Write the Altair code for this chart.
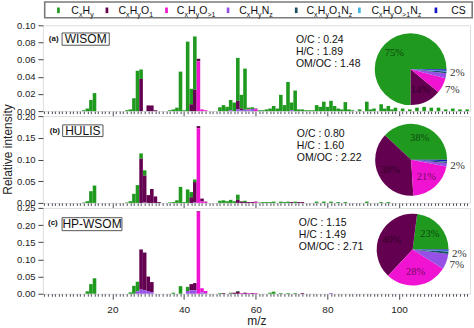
import math
import pandas as pd
import altair as alt

FONT = "Liberation Sans"
SERIF = "Liberation Serif"

categories = ["CxHy", "CxHyO1", "CxHyO>1", "CxHyNz", "CxHyO1Nz", "CxHyO>1Nz", "CS"]
palette = ["#1f9a1f", "#640050", "#f014d2", "#9650e6", "#1e5064", "#3cb4e6", "#1414c8"]

# ---------------- panel (a) WISOM : m/z -> relative intensity
a_CxHy = {12: .001, 13: .003, 14: .013, 15: .021, 24: .001, 25: .002, 26: .015, 27: .047, 28: .011,
          36: .001, 37: .002, 38: .004, 39: .046, 40: .001, 41: .081, 42: .018, 43: .062,
          50: .0045, 51: .007, 52: .005, 53: .012, 54: .010, 55: .050, 56: .016, 57: .048, 58: .002,
          59: .002, 61: .001, 62: .001, 63: .002, 64: .003, 65: .006, 66: .003, 67: .019, 68: .007,
          69: .034, 70: .009, 71: .024, 72: .002, 73: .002, 74: .001, 75: .001, 76: .001, 77: .007,
          78: .005, 79: .011, 80: .005, 81: .012, 82: .006, 83: .003, 84: .002, 85: .0105, 86: .002,
          87: .001, 89: .002, 91: .011, 92: .002, 93: .003, 95: .008, 96: .003, 97: .006, 98: .002,
          99: .004, 101: .003, 103: .002, 105: .004, 107: .005, 109: .004, 111: .004, 113: .002,
          115: .003, 117: .002, 119: .002}
a_CxHyO1 = {28: .0375, 30: .0066, 31: .0066, 32: .001, 42: .008, 43: .025, 44: .003, 55: .010, 56: .002, 60: .001}
a_CxHyO2 = {44: .058, 45: .002, 46: .001, 58: .001, 60: .002}
a_CxHyNz = {53: .001, 55: .002, 56: .001, 57: .001, 58: .001, 59: .002, 70: .001}
a_CxHyO1Nz = {}
a_CxHyO2Nz = {}
a_CS = {57: .0005, 59: .0005}
a_pie = [75, 14, 7, 2.2, 0.8, 0.3, 0.7]
a_pie_in = ["75%", "14%", "", "", "", "", ""]
a_pie_out = ["", "", "7%", "", "2%", "", ""]
a_ratios = ["0.24", "1.89", "1.48"]

# ---------------- panel (b) HULIS
b_CxHy = {12: .001, 13: .004, 14: .027, 15: .040, 24: .001, 25: .004, 26: .021, 27: .041, 28: .012,
          29: .012, 36: .001, 37: .002, 38: .006, 39: .037, 40: .002, 41: .031, 42: .012, 43: .006,
          50: .005, 51: .006, 52: .004, 53: .007, 54: .004, 55: .012, 56: .001, 57: .003, 61: .001,
          62: .002, 63: .002, 64: .002, 65: .003, 67: .003, 68: .002, 69: .003, 71: .003, 77: .003,
          79: .003, 81: .003, 83: .002, 85: .002, 91: .003, 95: .002, 97: .002}
b_CxHyO1 = {28: .102, 29: .062, 30: .018, 31: .032, 32: .015, 33: .002, 42: .013, 43: .047, 44: .005,
            45: .006, 46: .001, 55: .007, 56: .003, 57: .002, 58: .002, 59: .002, 60: .001, 70: .002,
            72: .002, 73: .002}
b_CxHyO2 = {44: .172, 45: .004, 46: .002, 60: .002}
b_CxHyNz = {29: .001, 43: .001}
b_CxHyO1Nz = {}
b_CxHyO2Nz = {}
b_CS = {}
b_pie = [38, 38, 21, 1.6, 0.6, 0.2, 0.6]
b_pie_in = ["38%", "38%", "21%", "", "", "", ""]
b_pie_out = ["", "", "", "2%", "", "", ""]
b_ratios = ["0.80", "1.60", "2.22"]

# ---------------- panel (c) HP-WSOM
c_CxHy = {13: .007, 14: .028, 15: .045, 25: .004, 26: .023, 27: .028, 37: .003, 39: .022, 41: .012,
          50: .002, 53: .002, 55: .002, 64: .003, 65: .006, 67: .002, 69: .002, 71: .002}
c_CxHyO1 = {28: .117, 29: .110, 30: .042, 31: .030, 42: .018, 43: .021, 44: .002, 51: .002, 53: .001,
            54: .003, 55: .006, 57: .003, 59: .002, 73: .002}
c_CxHyO2 = {44: .239, 45: .012, 46: .006, 56: .002, 58: .002, 60: .002}
c_CxHyNz = {27: .007, 28: .012, 29: .010, 30: .008, 31: .004, 41: .008, 42: .010, 43: .010, 45: .004,
            46: .002, 81: .002}
c_CxHyO1Nz = {}
c_CxHyO2Nz = {}
c_CS = {}
c_pie = [23, 40, 28, 7, 1.2, 0.3, 0.5]
c_pie_in = ["23%", "40%", "28%", "", "", "", ""]
c_pie_out = ["", "", "", "7%", "2%", "", ""]
c_ratios = ["1.15", "1.49", "2.71"]

names = ["WISOM", "HULIS", "HP-WSOM"]
tags = ["(a)", "(b)", "(c)"]

# ---------------- layout (pixels, relative to each plot area)
W, H = 428, [86, 87, 86]
layout = [
    dict(pie=(368.5, 44), txt=(253.5, [15, 27, 38.5]), tag=(10.8, 13.3), box=(19.2, 66.5, 7.7, 20)),
    dict(pie=(369, 43.8), txt=(254.5, [18, 29.8, 41.5]), tag=(12.0, 14.6), box=(19.8, 60.2, 8.8, 20.5)),
    dict(pie=(370.5, 41.8), txt=(256.5, [15.4, 26.8, 39.4]), tag=(10.0, 15.4), box=(19.2, 79.2, 9.8, 22.8)),
]
y_domains = [0.10, 0.20, 0.25]
y_values = [[0, .02, .04, .06, .08, .10], [0, .05, .10, .15, .20], [0, .05, .10, .15, .20, .25]]

cscale = alt.Scale(domain=categories, range=palette)
theta_scale = alt.Scale(range=[math.pi / 2, math.pi / 2 + 2 * math.pi])

# legend: label pieces (text, is_subscript)
legend_parts = [
    [("C", 0), ("x", 1), ("H", 0), ("y", 1)],
    [("C", 0), ("x", 1), ("H", 0), ("y", 1), ("O", 0), ("1", 1)],
    [("C", 0), ("x", 1), ("H", 0), ("y", 1), ("O", 0), (">1", 1)],
    [("C", 0), ("x", 1), ("H", 0), ("y", 1), ("N", 0), ("z", 1)],
    [("C", 0), ("x", 1), ("H", 0), ("y", 1), ("O", 0), ("1", 1), ("N", 0), ("z", 1)],
    [("C", 0), ("x", 1), ("H", 0), ("y", 1), ("O", 0), (">1", 1), ("N", 0), ("z", 1)],
    [("CS", 0)],
]
leg_sym_x = [14.2, 62.8, 122.5, 184.2, 252.5, 315.8, 392.5]
leg_txt_x = [28.5, 75.8, 134.2, 196.8, 264.2, 329.2, 409.2]
ADV = {"C": 722, "H": 722, "O": 778, "N": 722, "S": 667, "x": 500, "y": 500, "z": 500, "1": 556, ">": 584}
MAIN_FS, SUB_FS = 10.5, 7


def bars_df(dicts):
    rows = []
    for i, (cat, d) in enumerate(zip(categories, dicts)):
        for mz, v in d.items():
            rows.append({"cat": cat, "mz": mz, "val": v, "srank": 6 - i})
    return pd.DataFrame(rows)


def pie_df(vals, lin, lout):
    return pd.DataFrame({"cat": categories, "pct": vals, "srank": [6 - i for i in range(7)],
                         "lin": lin, "lout": lout})


def legend_layers():
    mains, subs = [], []
    base = -11.0
    for parts, x0 in zip(legend_parts, leg_txt_x):
        x = x0
        for t, sub in parts:
            fs = SUB_FS if sub else MAIN_FS
            (subs if sub else mains).append({"t": t, "tx": x, "ty": base + (2.4 if sub else 0)})
            x += sum(ADV[ch] for ch in t) * fs / 1000 + (0.2 if sub else 0)
    frame = alt.Chart(pd.DataFrame({"k": [0]})).mark_rect(
        fill="white", stroke="#7a7a7a", strokeWidth=1.6
    ).encode(x=alt.value(1.8), x2=alt.value(430.2), y=alt.value(-23.3), y2=alt.value(-7.5))
    sym = pd.DataFrame({"cat": categories, "sx": leg_sym_x, "sx2": [v + 2.7 for v in leg_sym_x]})
    syms = alt.Chart(sym).mark_rect().encode(
        x=alt.X("sx:Q", scale=None), x2="sx2:Q", y=alt.value(-17.8), y2=alt.value(-12.2),
        color=alt.Color("cat:N", scale=cscale, legend=None))
    tmain = alt.Chart(pd.DataFrame(mains)).mark_text(
        align="left", baseline="alphabetic", font=FONT, fontSize=MAIN_FS, color="#111"
    ).encode(x=alt.X("tx:Q", scale=None), y=alt.Y("ty:Q", scale=None), text="t:N")
    tsub = alt.Chart(pd.DataFrame(subs)).mark_text(
        align="left", baseline="alphabetic", font=FONT, fontSize=SUB_FS, color="#111"
    ).encode(x=alt.X("tx:Q", scale=None), y=alt.Y("ty:Q", scale=None), text="t:N")
    return [frame, syms, tmain, tsub]


def panel(k, dicts, pie_vals, pie_in, pie_out, ratios):
    L = layout[k]
    last = k == 2
    df = bars_df(dicts)
    xaxis = alt.Axis(
        values=list(range(1, 120)),
        tickSize={"condition": {"test": "datum.value % 20 === 0", "value": 5.5}, "value": 2.5},
        tickColor="#4a4a5a", tickWidth=1, grid=False, domain=False,
        labels=last, labelExpr="datum.value % 20 === 0 ? datum.label : ''",
        labelOverlap=False, labelFlush=False, labelFont=FONT, labelFontSize=10, labelColor="#222",
        labelPadding=5, title=("m/z" if last else None), titleFont=FONT, titleFontSize=12,
        titleFontWeight="normal", titleColor="#222", titlePadding=1)
    ykw = dict(title=None)
    if k == 1:
        ykw = dict(title="Relative intensity", titleY=33)
    yaxis = alt.Axis(
        values=y_values[k], format=".2f", grid=False, domain=False, tickSize=5, tickColor="#444",
        labelFont=FONT, labelFontSize=9.5, labelColor="#222", labelPadding=3,
        titleFont=FONT, titleFontSize=12, titleFontWeight="normal", titleColor="#222", titlePadding=2,
        **ykw)
    bars = alt.Chart(df).transform_calculate(
        lo="datum.mz - 0.5", hi="datum.mz + 0.5"
    ).transform_stack(
        stack="val", groupby=["mz"], as_=["y0", "y1"], sort=[alt.SortField("srank", order="ascending")]
    ).mark_rect().encode(
        x=alt.X("lo:Q", scale=alt.Scale(domain=[0.6, 119.8], nice=False, zero=False), axis=xaxis),
        x2="hi:Q",
        y=alt.Y("y0:Q", scale=alt.Scale(domain=[0, y_domains[k]], nice=False), axis=yaxis),
        y2="y1:Q",
        color=alt.Color("cat:N", scale=cscale, legend=None))

    pdf = pie_df(pie_vals, pie_in, pie_out)
    cx, cy = L["pie"]
    theta = alt.Theta("pct:Q", stack=True, scale=theta_scale)
    order = alt.Order("srank:Q", sort="ascending")
    pie = alt.Chart(pdf).mark_arc(radius=36).encode(
        theta=theta, order=order, color=alt.Color("cat:N", scale=cscale, legend=None),
        x=alt.value(cx), y=alt.value(cy))
    lab_in = alt.Chart(pdf).mark_text(radius=23, font=SERIF, fontSize=10.5, color="black", opacity=0.55).encode(
        theta=theta, order=order, text="lin:N", x=alt.value(cx), y=alt.value(cy))
    lab_out = alt.Chart(pdf).mark_text(radius=47, font=SERIF, fontSize=11, color="#333").encode(
        theta=theta, order=order, text="lout:N", x=alt.value(cx), y=alt.value(cy))

    tx, tys = L["txt"]
    rdf = pd.DataFrame({"t": [f"O/C : {ratios[0]}", f"H/C : {ratios[1]}", f"OM/OC : {ratios[2]}"], "ty": tys})
    rtxt = alt.Chart(rdf).mark_text(align="left", baseline="middle", font=FONT, fontSize=10.5, color="#111").encode(
        x=alt.value(tx), y=alt.Y("ty:Q", scale=None), text="t:N")

    bx0, bx1, by0, by1 = L["box"]
    one = pd.DataFrame({"k": [0]})
    box = alt.Chart(one).mark_rect(fill="white", stroke="#555", strokeWidth=1).encode(
        x=alt.value(bx0), x2=alt.value(bx1), y=alt.value(by0), y2=alt.value(by1))
    name = alt.Chart(one).mark_text(align="center", baseline="middle", font=FONT, fontSize=12, color="#111",
                                    text=names[k]).encode(x=alt.value((bx0 + bx1) / 2), y=alt.value((by0 + by1) / 2 + 0.3))
    tag = alt.Chart(one).mark_text(align="center", baseline="middle", font=FONT, fontSize=8, fontWeight="bold",
                                   color="#111", text=tags[k]).encode(x=alt.value(L["tag"][0]), y=alt.value(L["tag"][1]))

    layers = [bars, pie, lab_in, lab_out, rtxt, box, name, tag]
    if k == 0:
        layers += legend_layers()
    return alt.layer(*layers).properties(width=W, height=H[k])


pa = panel(0, [a_CxHy, a_CxHyO1, a_CxHyO2, a_CxHyNz, a_CxHyO1Nz, a_CxHyO2Nz, a_CS], a_pie, a_pie_in, a_pie_out, a_ratios)
pb = panel(1, [b_CxHy, b_CxHyO1, b_CxHyO2, b_CxHyNz, b_CxHyO1Nz, b_CxHyO2Nz, b_CS], b_pie, b_pie_in, b_pie_out, b_ratios)
pc = panel(2, [c_CxHy, c_CxHyO1, c_CxHyO2, c_CxHyNz, c_CxHyO1Nz, c_CxHyO2Nz, c_CS], c_pie, c_pie_in, c_pie_out, c_ratios)

chart = alt.vconcat(pa, pb, pc, spacing=5, bounds="flush").resolve_scale(
    y="independent", theta="independent"
).properties(
    padding={"left": 1, "top": 0, "right": 0, "bottom": 0}
).configure_view(stroke="#8a8a8a", strokeWidth=1.5).configure(background="white")

chart.save("out.html", embed_options={"renderer": "svg", "actions": False})
